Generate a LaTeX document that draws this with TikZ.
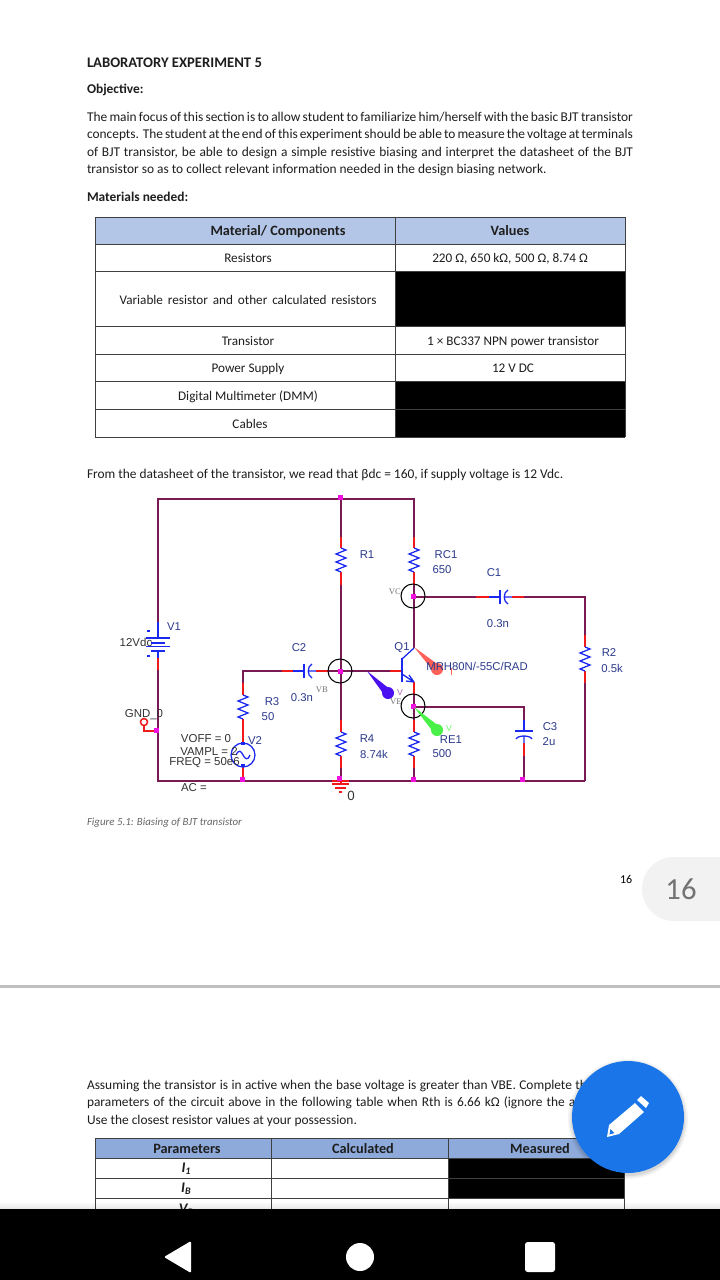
\documentclass[tikz,border=0pt]{standalone}
\usepackage{fontspec}
\setmainfont{Carlito}
\newfontfamily\cirfont{Liberation Sans}
\newfontfamily\serfont{Liberation Serif}
\usetikzlibrary{calc}
\definecolor{wirec}{HTML}{7A1A55}
\definecolor{redc}{HTML}{F01A1A}
\definecolor{bluec}{HTML}{1A28F0}
\definecolor{labc}{HTML}{2C3A8C}
\definecolor{pinkc}{HTML}{F010E0}
\definecolor{hdrA}{HTML}{B4C6E7}
\definecolor{hdrB}{HTML}{8EAADB}
\definecolor{inkc}{HTML}{1E1E1E}
\definecolor{fabc}{HTML}{1A76E8}
\definecolor{probeb}{HTML}{4A10F0}
\definecolor{prober}{HTML}{FF6058}
\definecolor{probeg}{HTML}{48F048}
\newcommand{\pxw}[2]{\makebox[#1\dimexpr0.75pt\relax][s]{#2}}
\newcommand{\vres}[2]{\draw[bluew] (#1,#2) -- ++(5,2) -- ++(-10,4) -- ++(10,4) -- ++(-10,4) -- ++(10,4) -- ++(-10,4) -- ++(5,2);}
\newcommand{\pinkdot}[1]{\fill[pinkc] (#1) ++(-2.5,-2.5) rectangle ++(5,5);}
\tikzset{
 wire/.style={draw=wirec,line width=1.15pt},
 redw/.style={draw=redc,line width=1.15pt},
 bluew/.style={draw=bluec,line width=0.95pt},
 body/.style={anchor=base west,inner sep=0,outer sep=0,yshift=-0.75pt,font=\fontsize{10.05pt}{12pt}\selectfont,text=inkc},
 bodyb/.style={body,font=\fontsize{10.05pt}{12pt}\selectfont\bfseries},
 cell/.style={anchor=base,inner sep=0,outer sep=0,yshift=-0.4pt,font=\fontsize{9.9pt}{12pt}\selectfont,text=inkc},
 cellb/.style={cell,font=\fontsize{10.7pt}{12pt}\selectfont\bfseries},
 grid/.style={draw=black!75,line width=0.7pt},
 clab/.style={anchor=center,inner sep=0,outer sep=0,yshift=-0.75pt,font=\cirfont\fontsize{8.5pt}{10pt}\selectfont,text=labc},
 blab/.style={anchor=center,inner sep=0,outer sep=0,yshift=-0.75pt,font=\cirfont\fontsize{8.6pt}{10pt}\selectfont,text=black!80},
 vlab/.style={anchor=center,inner sep=0,outer sep=0,font=\serfont\fontsize{6.5pt}{7pt}\selectfont,text=black!55},
 mark circle/.style={draw=black,line width=0.8pt},
}
\begin{document}
\begin{tikzpicture}[x=0.75pt,y=-0.75pt]
\useasboundingbox (0,0) rectangle (720,1280);
\fill[white] (0,0) rectangle (720,1280);
% --- page text
\node[bodyb,font=\fontsize{11pt}{12pt}\selectfont\bfseries] (title) at (87,67) {LABORATORY EXPERIMENT 5};
\node[bodyb] (obj) at (87,93) {Objective:};
\node[body] (p1) at (87,121) {\pxw{546}{The main focus of this section is to allow student to familiarize him/herself with the basic BJT transistor}};
\node[body] (p2) at (87,138) {\pxw{546}{concepts. The student at the end of this experiment should be able to measure the voltage at terminals}};
\node[body] (p3) at (87,156) {\pxw{546}{of BJT transistor, be able to design a simple resistive biasing and interpret the datasheet of the BJT}};
\node[body] (p4) at (87,173) {transistor so as to collect relevant information needed in the design biasing network.};
\node[bodyb] (mat) at (87,201) {Materials needed:};
% --- materials table
\fill[hdrA] (95,217) rectangle (625,244);
\fill[black] (395,271) rectangle (625,326);
\fill[black] (395,381) rectangle (625,437);
\foreach \yy in {217,244,271,326,354,381,409,437} {\draw[grid] (95,\yy) -- (625,\yy);}
\foreach \xx in {95,395,625} {\draw[grid] (\xx,217) -- (\xx,437);}
\node[cellb] (t1a) at (278,235) {Material/ Components};
\node[cellb] (t1b) at (510,235) {Values};
\node[cell] (t2a) at (248,262) {Resistors};
\node[cell] (t2b) at (510,262) {220 Ω, 650 kΩ, 500 Ω, 8.74 Ω};
\node[cell] (t3a) at (248,304) {\pxw{257}{Variable resistor and other calculated resistors}};
\node[cell] (t4a) at (248,345) {Transistor};
\node[cell] (t4b) at (513,345) {1 × BC337 NPN power transistor};
\node[cell] (t5a) at (248,372) {Power Supply};
\node[cell] (t5b) at (513,372) {12 V DC};
\node[cell] (t6a) at (248,400) {Digital Multimeter (DMM)};
\node[cell] (t7a) at (250,428) {Cables};
\node[body] (from) at (87,477) {From the datasheet of the transistor, we read that βdc = 160, if supply voltage is 12 Vdc.};
% --- circuit coordinates
\coordinate (tl) at (158,499); \coordinate (tm) at (341,499); \coordinate (tr) at (414,499);
\coordinate (bl) at (158,781); \coordinate (bm) at (341,781); \coordinate (bc) at (414,781);
\coordinate (b3) at (524,781); \coordinate (br) at (585,781); \coordinate (b2) at (243,781);
\coordinate (vc) at (414,597); \coordinate (vb) at (341,671); \coordinate (ve) at (414,707);
\coordinate (c3t) at (524,707); \coordinate (r3t) at (243,671); \coordinate (c1r) at (585,597);
% dark wires
\draw[wire,line join=miter] (158,622) -- (tl) -- (tr) -- (414,537);
\draw[wire] (tm) -- (341,537);
\draw[wire] (341,585) -- (vb) -- (341,720);
\draw[wire] (414,585) -- (vc) -- (414,648);
\draw[wire] (vc) -- (476,597);
\draw[wire] (524,597) -- (c1r) -- (585,635);
\draw[wire] (585,683) -- (br);
\draw[wire] (158,670) -- (bl) -- (br);
\draw[wire] (341,768) -- (bm);
\draw[wire] (414,768) -- (bc);
\draw[wire] (414,695) -- (414,720);
\draw[wire] (ve) -- (c3t) -- (524,720);
\draw[wire] (524,756) -- (b3);
\draw[wire] (vb) -- (390,671);
\draw[wire] (328,671) -- (vb);
\draw[wire] (282,671) -- (r3t) -- (243,683);
% red leads
\foreach \xx in {341,414} {
  \draw[redw] (\xx,537) -- (\xx,548);
  \draw[redw] (\xx,572) -- (\xx,585);
  \draw[redw] (\xx,720) -- (\xx,732);
  \draw[redw] (\xx,756) -- (\xx,768);
}
\draw[redw] (414,682) -- (414,695);
\draw[redw] (585,635) -- (585,647);
\draw[redw] (585,671) -- (585,683);
\draw[redw] (476,597) -- (489,597);
\draw[redw] (512,597) -- (524,597);
\draw[redw] (282,671) -- (293,671);
\draw[redw] (316,671) -- (328,671);
\draw[redw] (390,671) -- (402,671);
\draw[redw] (243,683) -- (243,695);
\draw[redw] (243,719) -- (243,743);
\draw[redw] (243,766) -- (243,781);
\draw[redw] (524,743) -- (524,756);
\draw[redw] (158,658) -- (158,670);
\draw[redw] (332,781) -- (349,781);
% resistors
\vres{341}{548} \vres{414}{548} \vres{585}{647}
\vres{243}{695} \vres{341}{732} \vres{414}{732}
% capacitors
\draw[bluew] (489,597) -- (500,597) (500,590) -- (500,604);
\draw[bluew] (508,590) .. controls (503,592) and (503,602) .. (508,604) (504,597) -- (512,597);
\draw[bluew] (293,671) -- (304,671) (304,664) -- (304,678);
\draw[bluew] (312,664) .. controls (307,666) and (307,676) .. (312,678) (308,671) -- (316,671);
\draw[bluew] (524,720) -- (524,731) (515,731) -- (533,731);
\draw[bluew] (516,739) .. controls (518,735) and (530,735) .. (532,739) (524,736) -- (524,743);
% battery
\draw[bluew] (158,622) -- (158,638) (146,638) -- (170,638) (151,643) -- (165,643) (146,646.500) -- (170,646.500) (151,651) -- (165,651) (158,651) -- (158,658);
\fill[bluec] (147,630) rectangle (150,632);
\fill[bluec] (147,655) rectangle (150,657);
% transistor
\draw[bluew,line width=1.2pt] (402,658) -- (402,682);
\draw[bluew] (414,648) -- (402,659);
\draw[bluew] (402,674) -- (414,682) (414,682) -- (406,681) (414,682) -- (409,675);
% source
\draw[bluew] (243,755) circle [radius=12];
\draw[bluew] (236,755) .. controls (239,749) and (241,751) .. (243,755) .. controls (245,759) and (248,761) .. (250,755);
\fill[bluec] (240.500,742) rectangle (245,745);
\fill[bluec] (240.500,764) rectangle (245,767);
% ground
\draw[redw] (341,781) -- (341,784);
\draw[redw] (332,784) -- (349,784) (335,788) -- (346,788);
\draw[redw] (339,792) -- (342,792);
% GND marker
\draw[redw] (144,725.500) -- (144,731) -- (156,731);
\draw[redw,fill=white] (144,722) circle [radius=3.500];
% measuring circles
\draw[mark circle] (vc) ++(-1,-1) circle [radius=12];
\draw[mark circle] (vb) ++(-1,0) circle [radius=12];
\draw[mark circle] (ve) ++(-1,-1) circle [radius=12];
% junction dots
\pinkdot{340,497} \pinkdot{413,596} \pinkdot{340,671} \pinkdot{413,706}
\pinkdot{156,730} \pinkdot{242,779} \pinkdot{339,778} \pinkdot{413,779} \pinkdot{522,779}
% probes
\coordinate (pr) at (437,669); \coordinate (pb) at (388,693); \coordinate (pg) at (437,730);
\coordinate (tipr) at (414,647); \coordinate (tipb) at (367,671); \coordinate (tipg) at (414,707);
\fill[prober] (tipr) -- ($(pr)+(3,-3)$) -- ($(pr)+(-3,3)$) -- cycle;
\fill[prober] (pr) circle [radius=6];
\fill[probeb] (tipb) -- ($(pb)+(3,-3)$) -- ($(pb)+(-3,3)$) -- cycle;
\fill[probeb] (pb) circle [radius=6];
\fill[probeg] (tipg) -- ($(pg)+(3,-3)$) -- ($(pg)+(-3,3)$) -- cycle;
\fill[probeg] (pg) circle [radius=6];
\draw[prober,line width=0.5pt] (451,668) -- (451,675);
% circuit labels
\node[clab] (lV1) at (174,626) {V1};
\node[blab] (l12) at (136,641) {12Vdc};
\node[clab] (lC2) at (299,647) {C2};
\node[clab] (lC2v) at (302,697) {0.3n};
\node[vlab] (lVB) at (322,690) {VB};
\node[clab] (lR1) at (367,554) {R1};
\node[clab] (lRC) at (446,554) {RC1};
\node[clab] (lRCv) at (442,569) {650};
\node[clab] (lC1) at (494,572) {C1};
\node[clab] (lC1v) at (498,623) {0.3n};
\node[vlab] (lVC) at (395,592) {VC};
\node[clab] (lQ1) at (402,647) {Q1};
\node[clab] (lMR) at (477,665) {MRH80N/-55C/RAD};
\node[clab] (lR2) at (609,652) {R2};
\node[clab] (lR2v) at (612,667) {0.5k};
\node[vlab] (lVE) at (396,702) {VE};
\node[vlab,text=violet!60!white,font=\cirfont\fontsize{6.5pt}{7pt}\selectfont] (lVb) at (400,693) {V};
\node[vlab,text=green!60!white,font=\cirfont\fontsize{6.5pt}{7pt}\selectfont] (lVg) at (449,729) {V};
\node[blab] (lGND) at (144,714) {GND\_0};
\node[clab] (lR3) at (272,701) {R3};
\node[clab] (lR3v) at (268,716) {50};
\node[clab] (lV2) at (255,740) {V2};
\node[blab] (lvo) at (206,738) {VOFF = 0};
\node[blab] (lva) at (209,750) {VAMPL = 2};
\node[blab] (lfr) at (204.500,762) {FREQ = 50e6};
\node[blab] (lac) at (194,787) {AC =};
\node[clab] (lR4) at (367,738) {R4};
\node[clab] (lR4v) at (374,753) {8.74k};
\node[clab] (lRE) at (451,739) {RE1};
\node[clab] (lREv) at (442,753) {500};
\node[clab] (lC3) at (550,726) {C3};
\node[clab] (lC3v) at (549,741) {2u};
\node[blab,font=\cirfont\fontsize{10pt}{11pt}\selectfont] (lzero) at (351,795) {0};
% caption
\node[body,font=\fontsize{8.15pt}{9pt}\selectfont\itshape,text=black!60] (fig) at (87,824) {Figure 5.1: Biasing of BJT transistor};
\node[body,font=\fontsize{9pt}{10pt}\selectfont,text=black] (pg16) at (620,882) {16};
% page number pill and separator
\fill[black!5] (674,889) circle [radius=32];
\fill[black!5] (674,857) rectangle (720,921);
\node[anchor=center,inner sep=0,font=\fontsize{23pt}{24pt}\selectfont,text=black!55] (pill) at (681,889) {16};
\fill[black!25] (0,984.500) rectangle (720,988);
% second page
\node[body] (q1) at (87,1088) {\pxw{500}{Assuming the transistor is in active when the base voltage is greater than VBE. Complete th}};
\node[body] (q2) at (87,1105) {\pxw{494}{parameters of the circuit above in the following table when Rth is 6.66 kΩ (ignore the ac}};
\node[body] (q3) at (87,1123) {Use the closest resistor values at your possession.};
\fill[hdrB] (95.500,1138) rectangle (624,1158);
\fill[black] (448,1158) rectangle (624,1198);
\foreach \yy in {1138,1158,1178,1198} {\draw[grid] (95.500,\yy) -- (624,\yy);}
\foreach \xx in {95.500,271,448,624} {\draw[grid] (\xx,1138) -- (\xx,1212);}
\node[cellb] (u1) at (187,1153) {Parameters};
\node[cellb] (u2) at (363,1153) {Calculated};
\node[cellb] (u3) at (540,1153) {Measured};
\node[cell,font=\fontsize{11pt}{12pt}\selectfont\bfseries\itshape] (u4) at (186,1172) {I\raisebox{-0.25ex}{\fontsize{7.5pt}{8pt}\selectfont 1}};
\node[cell,font=\fontsize{11pt}{12pt}\selectfont\bfseries\itshape] (u5) at (186,1192) {I\raisebox{-0.25ex}{\fontsize{7.5pt}{8pt}\selectfont B}};
\node[cell,font=\fontsize{11pt}{12pt}\selectfont\bfseries\itshape] (u6) at (186,1213) {V\raisebox{-0.25ex}{\fontsize{7.5pt}{8pt}\selectfont B}};
% navigation bar
\foreach \yy/\oo in {1203/0.02,1204/0.03,1205/0.04,1206/0.05,1207/0.07,1208/0.09} {\fill[black,opacity=\oo] (0,\yy) rectangle (720,\yy+1);}
\fill[black] (0,1209) rectangle (720,1280);
\fill[white,rounded corners=1pt] (164,1257) -- (191,1241) -- (191,1273) -- cycle;
\fill[white] (360,1257) circle [radius=14];
\fill[white,rounded corners=2pt] (525,1242) rectangle (555,1272);
% action button
\foreach \rr/\oo in {60/0.04,58.500/0.05,57/0.07} {\fill[black,opacity=\oo] (628,1119) circle [radius=\rr];}
\fill[fabc] (628,1117) circle [radius=56];
\fill[white] (607,1137) -- (609,1125) -- (635,1103) -- (644,1112) -- (619,1134) -- cycle;
\fill[white] (637,1100) -- (641,1096) -- (649,1103) -- (646,1108) -- cycle;
\fill[fabc] (609.500,1134.500) -- (610.500,1129) -- (614.500,1133) -- cycle;
\end{tikzpicture}
\end{document}
